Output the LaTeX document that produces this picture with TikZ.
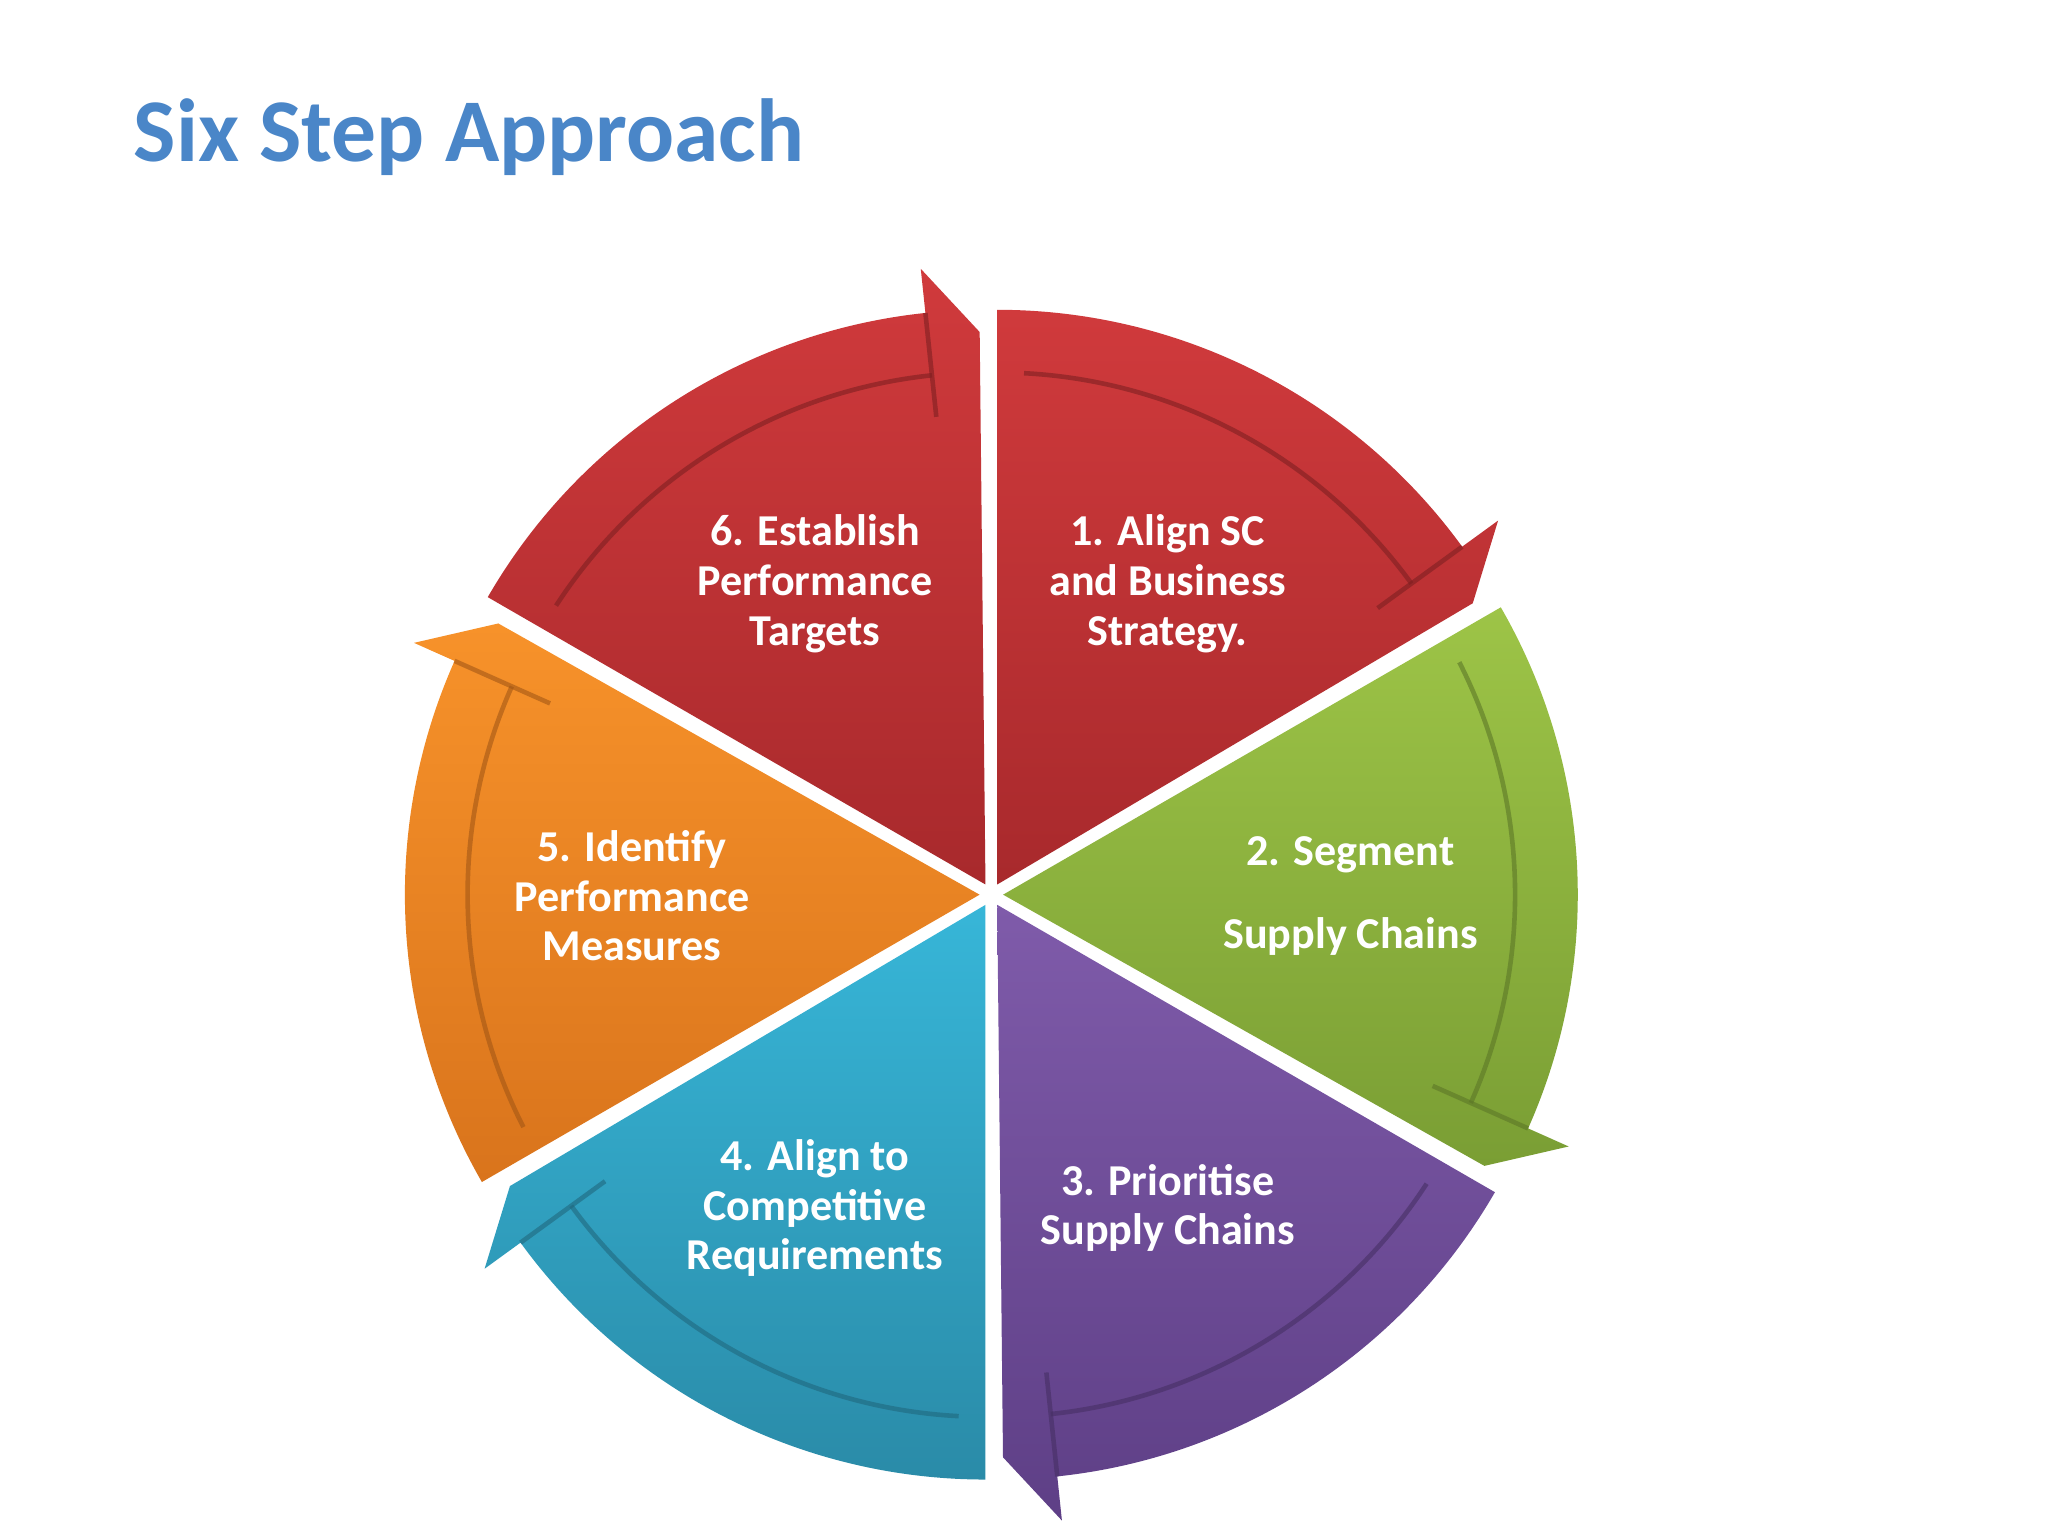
\documentclass[tikz,border=0pt]{standalone}
\usepackage{fontspec}
\setmainfont{Carlito}
\definecolor{titleblue}{HTML}{4A86C8}
\tikzset{lbl/.style={text=white,font=\bfseries\fontsize{9.6}{10.8}\selectfont,align=center}}
\begin{document}
\begin{tikzpicture}[x=0.01cm,y=0.01cm]
\useasboundingbox[fill=white] (0,0) rectangle (1568,1176);
\node[anchor=west,text=titleblue,font=\bfseries\fontsize{19.5}{22}\selectfont] (title) at (90,1071) {Six Step Approach};
\begin{scope}[shift={(759,491)}]
\foreach \a/\ca/\cb in {90/D03A3C/A8292C,30/9DC447/7A9E34,-30/7F5BAA/5E3F86,-90/37B6D8/2A8BA8,-150/F7922A/D9741C,150/D03A3C/A8292C}{
  \pgfmathsetmacro\b{\a-60}
  \pgfmathsetmacro\m{\a-30}
  \pgfmathsetmacro\h{\b+6}
  \pgfmathsetmacro\t{\b+0.6}
  \definecolor{ca}{HTML}{\ca}\definecolor{cb}{HTML}{\cb}
  \begin{scope}[shift={(\m:9)}]
    \shade[top color=ca,bottom color=cb] (0,0) -- (\a:440) arc[start angle=\a,end angle=\h,radius=440] -- (\h:474) -- (\t:423) -- (\t:20) -- cycle;
    \draw[cb!75!black,line width=1pt,opacity=.6] (\a-3:392) arc[start angle=\a-3,end angle=\h,radius=392];
    \draw[cb!75!black,line width=1pt,opacity=.6] (\h:360) -- (\h:440);
  \end{scope}
}
\end{scope}
\node[lbl] (s6) at (624,729) {6. Establish\\Performance\\Targets};
\node[lbl] (s1) at (894,729) {1. Align SC\\and Business\\Strategy.};
\node[lbl,align=center] (s2) at (1034,490) {2. Segment\\[1.6ex]Supply Chains};
\node[lbl] (s3) at (894,251) {3. Prioritise\\Supply Chains};
\node[lbl] (s4) at (624,251) {4. Align to\\Competitive\\Requirements};
\node[lbl] (s5) at (484,490) {5. Identify\\Performance\\Measures};
\end{tikzpicture}
\end{document}
